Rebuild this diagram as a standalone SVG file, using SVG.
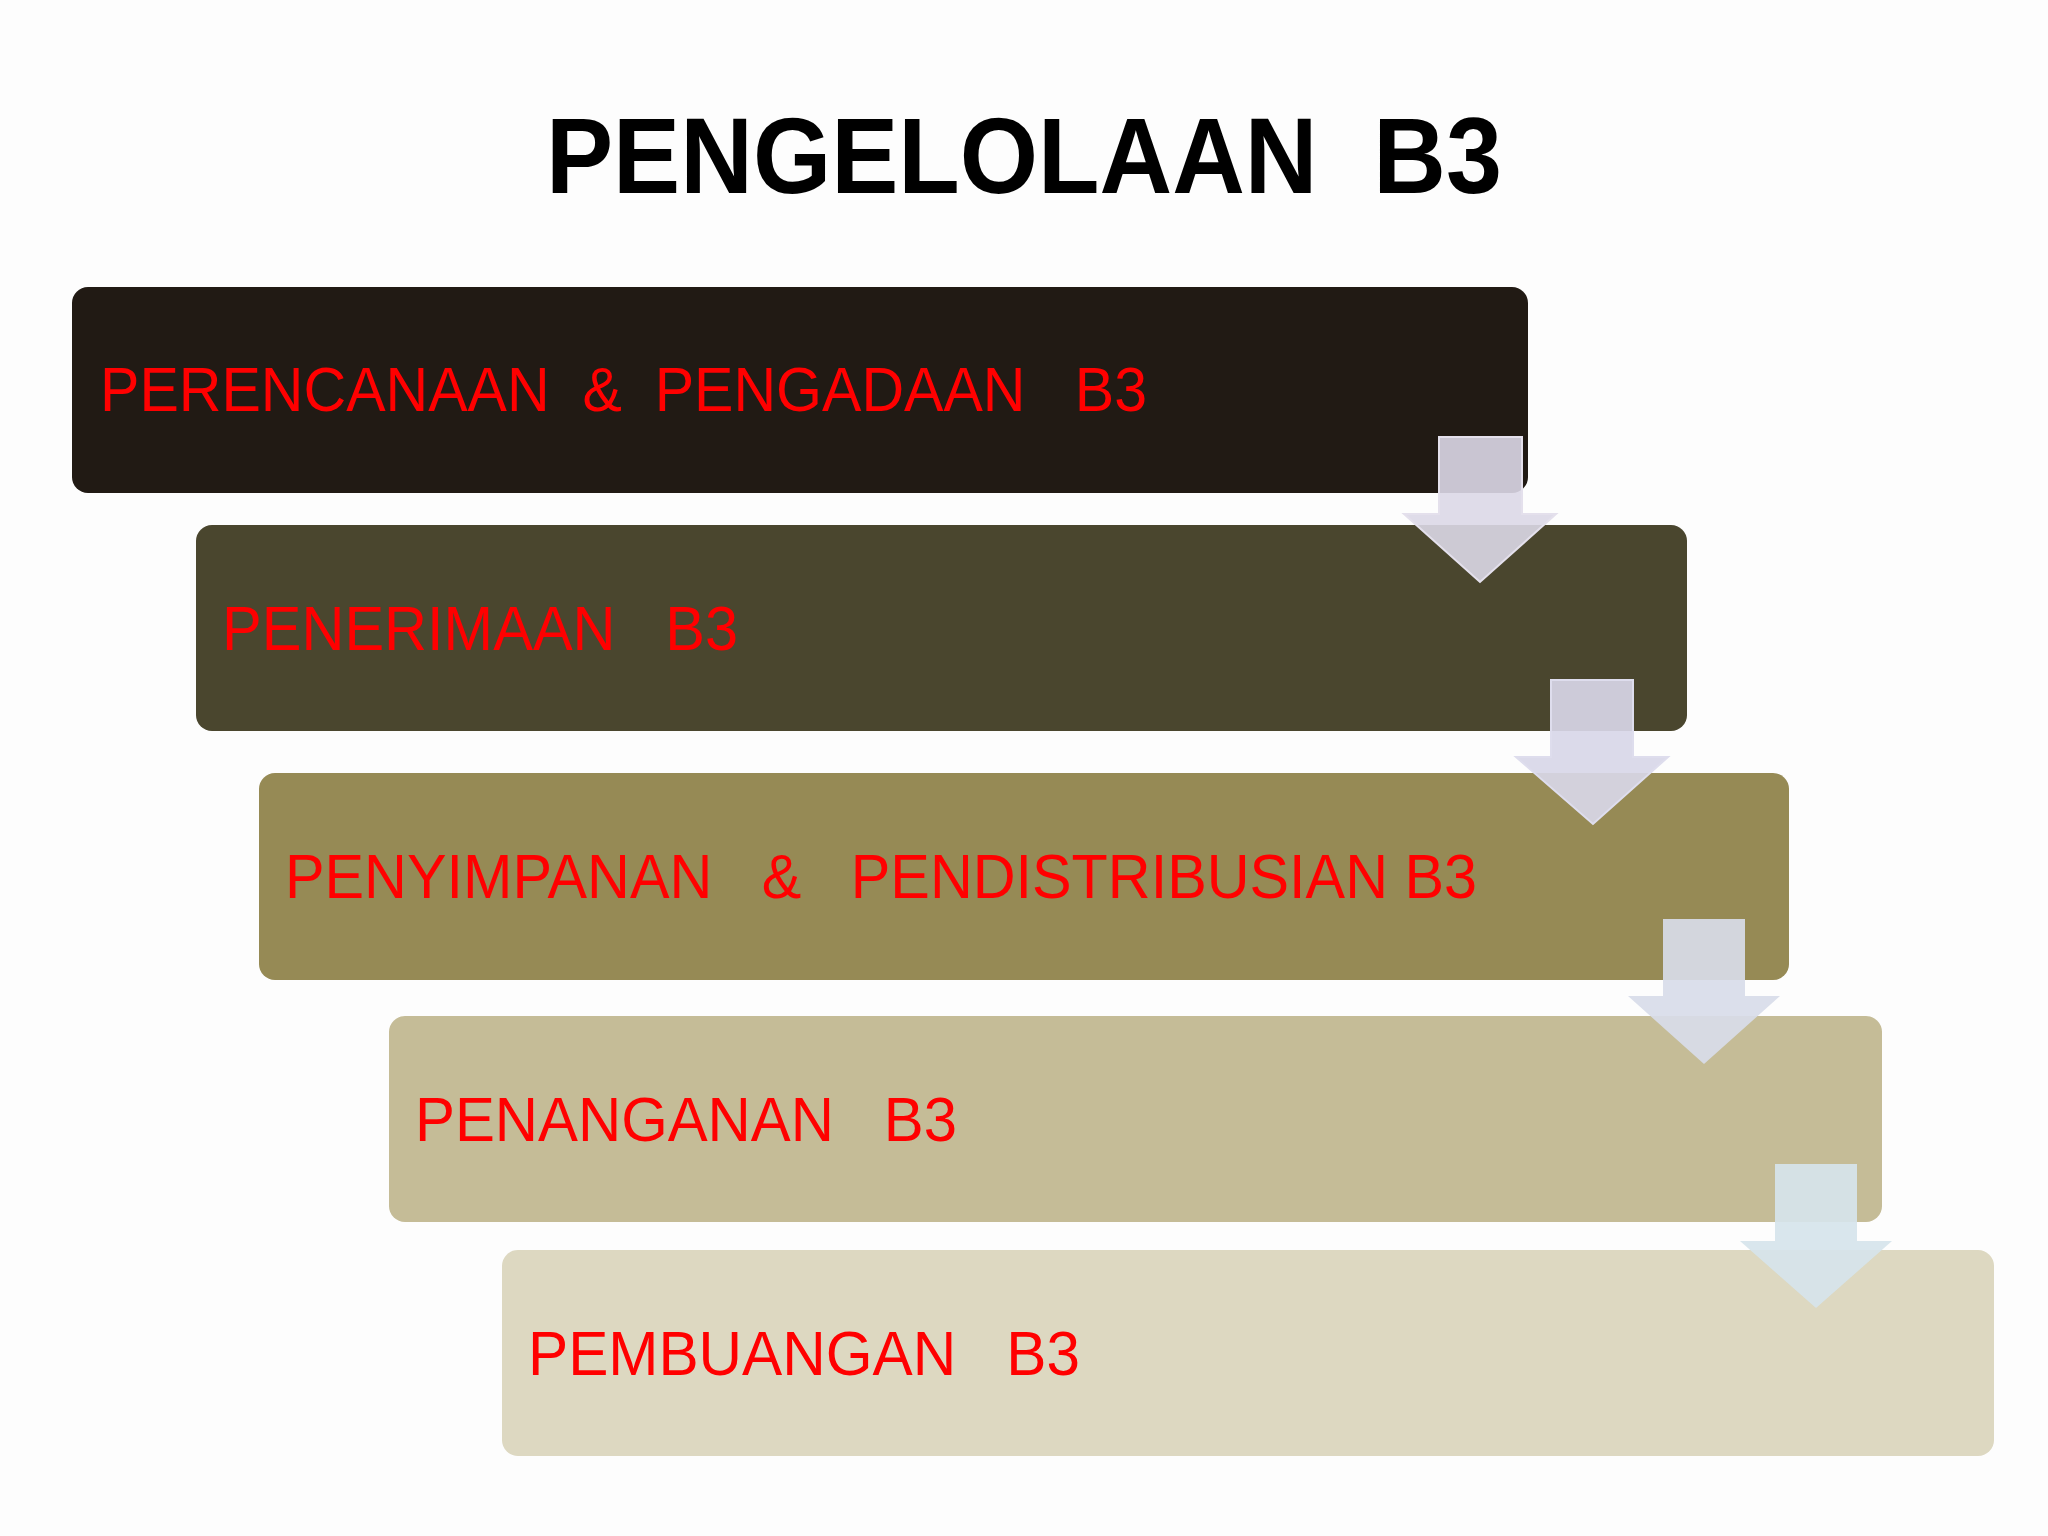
<svg xmlns="http://www.w3.org/2000/svg" width="2048" height="1536" viewBox="0 0 2048 1536">
  <style>
    .title { font-family: "Liberation Sans", Arial, sans-serif; font-weight: bold; font-size: 108px; fill: #000000; }
    .label { font-family: "Liberation Sans", Arial, sans-serif; font-size: 63px; fill: #ff0000; }
    .arrow { stroke-width: 2; }
  </style>
  <rect x="0" y="0" width="2048" height="1536" fill="#fdfdfd"/>
  <text class="title" x="546" y="193" textLength="956" lengthAdjust="spacingAndGlyphs" xml:space="preserve">PENGELOLAAN  B3</text>

  <g id="node1">
    <rect x="72" y="287" width="1456" height="206" rx="16" fill="#211a14"/>
    <text class="label" x="100" y="411" textLength="1047" lengthAdjust="spacingAndGlyphs" xml:space="preserve">PERENCANAAN  &amp;  PENGADAAN   B3</text>
  </g>
  <g id="node2">
    <rect x="196" y="525" width="1491" height="206" rx="16" fill="#4a462e"/>
    <text class="label" x="222" y="650" textLength="516" lengthAdjust="spacingAndGlyphs" xml:space="preserve">PENERIMAAN   B3</text>
  </g>
  <g id="node3">
    <rect x="259" y="773" width="1530" height="207" rx="16" fill="#968a55"/>
    <text class="label" x="285" y="898" textLength="1192" lengthAdjust="spacingAndGlyphs" xml:space="preserve">PENYIMPANAN   &amp;   PENDISTRIBUSIAN B3</text>
  </g>
  <g id="node4">
    <rect x="389" y="1016" width="1493" height="206" rx="16" fill="#c5bc97"/>
    <text class="label" x="415" y="1141" textLength="542" lengthAdjust="spacingAndGlyphs" xml:space="preserve">PENANGANAN   B3</text>
  </g>
  <g id="node5">
    <rect x="502" y="1250" width="1492" height="206" rx="16" fill="#ddd8c1"/>
    <text class="label" x="528" y="1375" textLength="552" lengthAdjust="spacingAndGlyphs" xml:space="preserve">PEMBUANGAN   B3</text>
  </g>

  <g id="connectors">
    <polygon class="arrow" points="1439,437 1522,437 1522,514 1556,514 1480,582 1404,514 1439,514" fill="#dcd8e7" fill-opacity="0.9" stroke="#e4e0ec"/>
    <polygon class="arrow" points="1551,680 1633,680 1633,757 1668,757 1593,824 1516,757 1551,757" fill="#d8d7e8" fill-opacity="0.92" stroke="#dedded"/>
    <polygon class="arrow" points="1663,919 1745,919 1745,996 1780,996 1704,1064 1628,996 1663,996" fill="#d8dce9" fill-opacity="0.92" stroke="none"/>
    <polygon class="arrow" points="1775,1164 1857,1164 1857,1241 1892,1241 1816,1308 1740,1241 1775,1241" fill="#d6e4ec" fill-opacity="0.92" stroke="none"/>
  </g>
</svg>
